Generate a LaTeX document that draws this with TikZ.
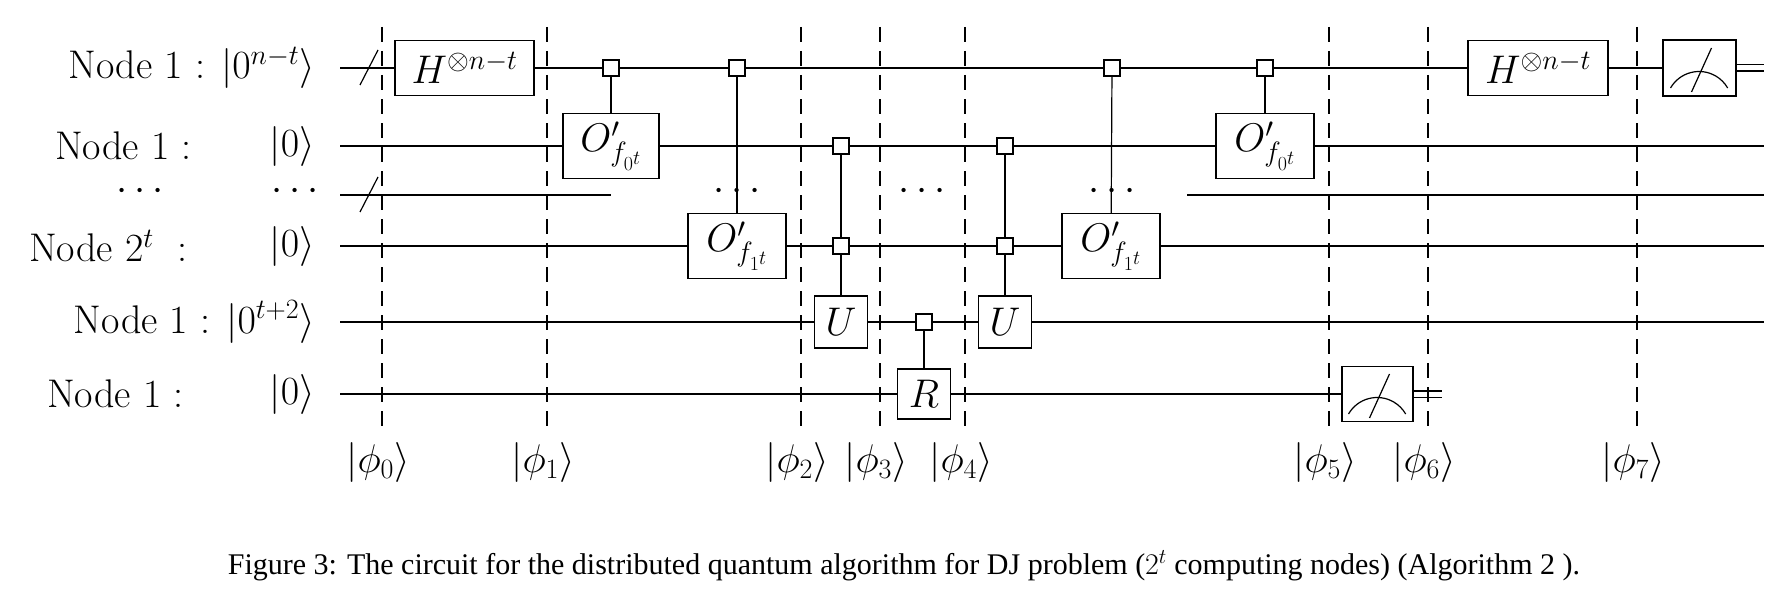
\RequirePackage{fix-cm}
\documentclass[tikz,border=0pt]{standalone}
\usepackage{fontspec}
\newfontfamily\capfont{Liberation Serif}
\begin{document}
\begin{tikzpicture}[x=1pt,y=-1pt,
  every node/.style={font=\fontsize{40}{48}\selectfont},
  wire/.style={line width=1.2pt},
  bus/.style={line width=2.8pt},
  gate/.style={draw,line width=1.3pt,fill=white,inner sep=0pt},
  ctrl/.style={draw,line width=1.2pt,fill=white,minimum size=16pt,inner sep=0pt},
  barrier/.style={line width=1.1pt,dash pattern=on 15pt off 9pt},
  hbarrier/.style={line width=2.2pt,dash pattern=on 15pt off 9pt},
  cwire/.style={line width=1.2pt,double distance=5pt},
  dots/.style={inner sep=0pt,anchor=base},
  lab/.style={inner sep=1pt},
  phi/.style={anchor=center}]
\useasboundingbox (0,0) rectangle (1788,610);
% labels
\node[lab,anchor=east] (l1) at (316,68) {Node 1 : $|0^{n-t}\rangle$};
\node[lab,anchor=west] (l2) at (54,146) {Node 1 :};
\node[lab,anchor=east] (k2) at (316,146) {$|0\rangle$};
\node[dots] (l3) at (140,200) {$\cdots$};
\node[dots] (k3) at (295,200) {$\cdots$};
\node[lab,anchor=west] (l4) at (28,246) {Node $2^t$ \ :};
\node[lab,anchor=east] (k4) at (316,246) {$|0\rangle$};
\node[lab,anchor=east] (l5) at (316,322) {Node 1 : $|0^{t+2}\rangle$};
\node[lab,anchor=west] (l6) at (46,394) {Node 1 :};
\node[lab,anchor=east] (k6) at (316,394) {$|0\rangle$};
% coordinates
\coordinate (s1) at (340,68); \coordinate (s2) at (340,146); \coordinate (s3) at (340,195);
\coordinate (s4) at (340,246); \coordinate (s5) at (340,322); \coordinate (s6) at (340,394);
\coordinate (e2) at (1764,146); \coordinate (e4) at (1764,246); \coordinate (e5) at (1764,322);
\coordinate (b1e) at (611,195); \coordinate (b2s) at (1187,195); \coordinate (b2e) at (1764,195);
\coordinate (c1e) at (1764,68); \coordinate (c6e) at (1442,394);
% wires
\draw[wire] (s1) -- (1663,68);
\draw[wire] (s2) -- (e2);
\draw[wire] (s4) -- (e4);
\draw[wire] (s5) -- (e5);
\draw[wire] (s6) -- (1342,394);
\draw[bus] (s3) -- (b1e);
\draw[bus] (b2s) -- (b2e);
\draw[cwire] (1736,68) -- (c1e);
\draw[cwire] (1413,394) -- (c6e);
% slashes
\draw[wire] (360,85) -- (378,50);
\draw[wire] (360,212) -- (378,177);
% barriers
\foreach \x/\n/\s in {382/0/barrier,547/1/barrier,801/2/hbarrier,880/3/barrier,965/4/hbarrier,1329/5/barrier,1428/6/barrier,1637/7/barrier}{
  \draw[\s] (\x,27) -- (\x,432);
  \node[phi] (p\n) at (\x-4,462) {$|\phi_{\n}\rangle$};
}
% controls and connectors
\node[ctrl] (c1) at (611,68) {};
\node[ctrl] (c2) at (737,68) {};
\node[ctrl] (c3) at (841,146) {};
\node[ctrl] (c4) at (841,246) {};
\node[ctrl] (c5) at (924,322) {};
\node[ctrl] (c6) at (1005,146) {};
\node[ctrl] (c7) at (1005,246) {};
\node[ctrl] (c8) at (1112,68) {};
\node[ctrl] (c9) at (1265,68) {};
% gates
\node[gate,minimum width=139pt,minimum height=55pt] (H1) at (464.5,68) {$H^{\otimes n-t}$};
\node[gate,minimum width=96pt,minimum height=65pt] (O1) at (611,146) {$O'_{f_{0^t}}$};
\node[gate,minimum width=98pt,minimum height=65pt] (O2) at (737,246) {$O'_{f_{1^t}}$};
\node[gate,minimum width=53pt,minimum height=52pt] (U1) at (841,322) {$U$};
\node[gate,minimum width=53pt,minimum height=50pt] (R) at (924,394) {$R$};
\node[gate,minimum width=53pt,minimum height=52pt] (U2) at (1005,322) {$U$};
\node[gate,minimum width=98pt,minimum height=65pt] (O3) at (1111,246) {$O'_{f_{1^t}}$};
\node[gate,minimum width=98pt,minimum height=65pt] (O4) at (1265,146) {$O'_{f_{0^t}}$};
\node[gate,minimum width=140pt,minimum height=55pt] (H2) at (1538,68) {$H^{\otimes n-t}$};
\node[gate,minimum width=73pt,minimum height=56pt] (M1) at (1699.5,68) {};
\node[gate,minimum width=71pt,minimum height=55pt] (M2) at (1377.5,394) {};
\draw[wire] (c1) -- (O1);
\draw[wire] (c2) -- (O2);
\draw[wire] (c3) -- (c4); \draw[wire] (c4) -- (U1);
\draw[wire] (c5) -- (R);
\draw[wire] (c6) -- (c7); \draw[wire] (c7) -- (U2);
\draw[wire] (c8) -- (O3);
\draw[wire] (c9) -- (O4);
% meters
\foreach \m in {M1,M2}{
  \draw[wire] ([shift={(-29pt,-20pt)}]\m.center) arc[start angle=150,end angle=30,radius=33pt];
  \draw[wire] ([shift={(-8pt,-24pt)}]\m.center) -- ([shift={(12pt,20pt)}]\m.center);
}
% dots
\node[dots] (d1) at (737,200) {$\cdots$};
\node[dots] (d2) at (922,200) {$\cdots$};
\node[dots] (d3) at (1112,200) {$\cdots$};
% caption
\node[font=\capfont\fontsize{30}{36}\selectfont] (cap) at (904,566) {Figure 3: The circuit for the distributed quantum algorithm for DJ problem ($2^t$ computing nodes) (Algorithm 2 ).};
\end{tikzpicture}
\end{document}
